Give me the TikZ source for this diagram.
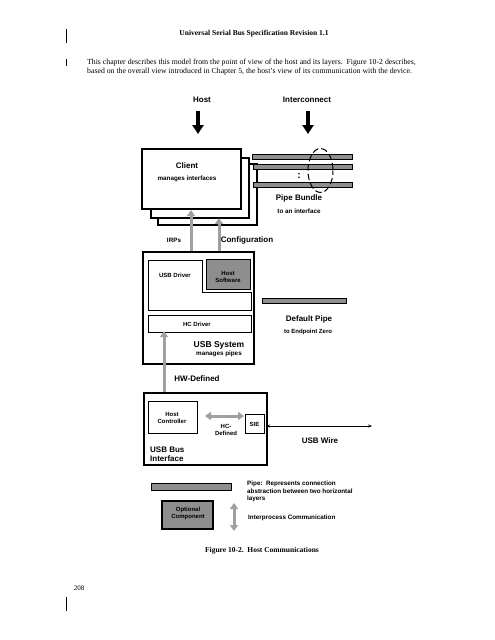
\documentclass[tikz,border=0pt]{standalone}
\usepackage{fontspec}
\setmainfont{Liberation Serif}
\newfontfamily\arial{Liberation Sans}
\usetikzlibrary{arrows.meta,shapes.geometric}
\definecolor{pipegray}{HTML}{8E8E8E}
\definecolor{arrgray}{HTML}{A0A0A0}
\tikzset{
  box/.style={draw=black,line width=1.1pt,fill=white},
  thinbox/.style={draw=black,line width=0.8pt,fill=white},
  pipe/.style={draw=black,line width=0.5pt,fill=pipegray},
  garrow/.style={draw=arrgray,line width=3pt,{Triangle[width=8pt,length=6pt]}-{Triangle[width=8pt,length=6pt]}},
  barrow/.style={draw=black,line width=4pt,-{Triangle[width=11pt,length=9pt]}},
  lab/.style={font=\arial\bfseries\fontsize{8}{9}\selectfont,inner sep=0pt},
  slab/.style={font=\arial\bfseries\fontsize{6}{7}\selectfont,inner sep=0pt,align=center},
  serif/.style={inner sep=0pt,font=\fontsize{7.77}{9}\selectfont},
  bar/.style={draw=black,line width=0.6pt},
}
\begin{document}
\begin{tikzpicture}[x=1pt,y=-1pt]
\useasboundingbox[fill=white] (0,0) rectangle (495,640);
% page text
\node[serif,font=\bfseries\fontsize{7.5}{9}\selectfont] (hdr) at (254,34) {Universal Serial Bus Specification Revision 1.1};
\draw[bar] (66,29) -- (66,43);
\draw[bar] (66,59) -- (66,66);
\node[serif,anchor=west] (p1) at (87,63) {This chapter describes this model from the point of view of the host and its layers.\ \ Figure 10-2 describes,};
\node[serif,anchor=west] (p2) at (87,72) {based on the overall view introduced in Chapter 5, the host's view of its communication with the device.};
% top labels and arrows
\node[lab] (host) at (202,100) {Host};
\node[lab] (inter) at (307,100) {Interconnect};
\coordinate (ha1) at (198,111); \coordinate (ha2) at (198,134);
\coordinate (ia1) at (308,111); \coordinate (ia2) at (308,134);
\draw[barrow] (ha1) -- (ha2);
\draw[barrow] (ia1) -- (ia2);
% client stack
\draw[box] (158,164) rectangle (257,225);
\draw[box] (151,158) rectangle (249,218);
\draw[box] (142,149) rectangle (241,209);
\node[lab] (client) at (187,166) {Client};
\node[slab,font=\arial\bfseries\fontsize{6.3}{7}\selectfont] (mi) at (187,179) {manages interfaces};
% pipes
\draw[pipe] (252,154) rectangle (352,159);
\draw[pipe] (253,164) rectangle (352,169);
\draw[pipe] (253,182) rectangle (352,187);
\node[lab,font=\arial\bfseries\fontsize{10}{10}\selectfont] (colon) at (299,175.5) {:};
\draw[line width=1pt,dash pattern=on 6.5pt off 3pt,dash phase=2pt] (320.5,170.5) ellipse [x radius=12.5, y radius=22];
\node[lab] (pb) at (299,198) {Pipe Bundle};
\node[slab,font=\arial\bfseries\fontsize{6.3}{7}\selectfont] (ai) at (299,211) {to an interface};
% IRPs / Configuration arrows
\coordinate (irp1) at (191,210); \coordinate (irp2) at (191,257);
\coordinate (cfg1) at (219,218); \coordinate (cfg2) at (219,259);
\draw[garrow] (irp1) -- (irp2);
\draw[garrow] (cfg1) -- (cfg2);
\node[slab,font=\arial\bfseries\fontsize{6.3}{7}\selectfont] (irps) at (174,240) {IRPs};
\node[lab] (cfg) at (247,240) {Configuration};
% USB system
\draw[box] (143,252) rectangle (254,364);
\draw[thinbox] (148,260) -- (202,260) -- (202,292) -- (251,292) -- (251,310) -- (148,310) -- cycle;
\draw[line width=0.8pt,fill=pipegray] (206,259) rectangle (250,289);
\node[slab] (usbd) at (175,275) {USB Driver};
\node[slab] (hs) at (228,276.5) {Host\\Software};
\draw[thinbox] (148,315) rectangle (251,332);
\node[slab] (hcd) at (197,324) {HC Driver};
\node[lab,font=\arial\bfseries\fontsize{8.5}{9}\selectfont] (usbs) at (219,345) {USB System};
\node[slab,font=\arial\bfseries\fontsize{6.3}{7}\selectfont] (mp) at (219,353.5) {manages pipes};
% default pipe
\draw[pipe] (262,298) rectangle (346,303);
\node[lab] (dp) at (309,319) {Default Pipe};
\node[slab] (ez) at (308,332) {to Endpoint Zero};
% HW-defined
\coordinate (hw1) at (164,331); \coordinate (hw2) at (164,404);
\draw[garrow] (hw1) -- (hw2);
\node[lab] (hwd) at (197,379) {HW-Defined};
% USB bus interface
\draw[box] (144,393) rectangle (267,465);
\draw[thinbox] (148,401) rectangle (197,433);
\node[slab] (hc) at (172,418) {Host\\Controller};
\coordinate (hcd1) at (205,416); \coordinate (hcd2) at (244,416);
\draw[garrow] (hcd1) -- (hcd2);
\node[slab] (hcdef) at (226,430) {HC-\\Defined};
\draw[thinbox] (245,414) rectangle (264,433);
\node[slab] (sie) at (254.5,424) {SIE};
\coordinate (w1) at (266,426); \coordinate (w2) at (372,426);
\draw[line width=0.6pt,{Stealth[length=4pt,width=3pt]}-{Stealth[length=4pt,width=3pt]}] (w1) -- (w2);
\node[lab] (wire) at (320,441) {USB Wire};
\node[lab,anchor=west,align=left] (ubi) at (150,454.5) {USB Bus\\Interface};
% legend
\draw[pipe] (151,483) rectangle (231,490);
\node[slab,anchor=west,align=left,font=\arial\bfseries\fontsize{6.3}{7.4}\selectfont] (leg1) at (247,491.5) {Pipe:\ \ Represents connection\\abstraction between two horizontal\\layers};
\draw[line width=2pt,fill=pipegray] (162,501) rectangle (213,529);
\node[slab] (opt) at (188,513.5) {Optional\\Component};
\coordinate (ip1) at (234,503); \coordinate (ip2) at (234,531);
\draw[garrow] (ip1) -- (ip2);
\node[slab,anchor=west,font=\arial\bfseries\fontsize{6.3}{7}\selectfont] (ipc) at (248,518) {Interprocess Communication};
\node[serif,font=\bfseries\fontsize{7.5}{9}\selectfont] (cap) at (262,551) {Figure 10-2.\ \ Host Communications};
\node[serif,font=\fontsize{7}{8}\selectfont] (pg) at (79,588) {208};
\draw[bar] (66,597) -- (66,611);
\end{tikzpicture}
\end{document}
